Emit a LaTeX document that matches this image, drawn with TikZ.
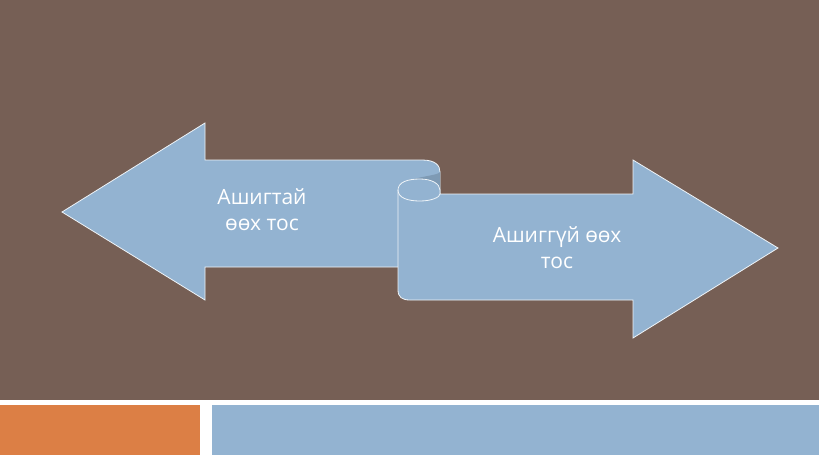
\documentclass[tikz,border=0pt]{standalone}
\usepackage{fontspec}
\setmainfont{Open Sans}
\begin{document}
\begin{tikzpicture}[x=1pt,y=-1pt]
\definecolor{bg}{HTML}{765F55}
\definecolor{ab}{HTML}{93B3D1}
\definecolor{abd}{HTML}{7E9AB4}
\definecolor{og}{HTML}{DC7F45}
\tikzset{arr/.style={fill=ab,draw=white!85!ab,line width=0.8pt},
  lbl/.style={text=white,font=\fontsize{21}{26}\selectfont,align=center}}
\fill[bg] (0,0) rectangle (819,400);
\fill[white] (0,400) rectangle (819,460);
\fill[og] (0,405) rectangle (200,455);
\fill[ab] (212,405) rectangle (819,455);
\path[use as bounding box] (0,0) rectangle (819,460);
% left arrow
\path[arr] (62,212) -- (205,123) -- (205,160) -- (422,160)
  .. controls (436,160) and (440,166) .. (440,172) -- (440,267) -- (205,267) -- (205,300) -- cycle;
% dark inside of curl
\fill[abd] (398,188) .. controls (398,178) and (440,176) .. (440,172) -- (440,194) -- (398,194) -- cycle;
% right arrow
\path[arr] (398,190) .. controls (398,182) and (408,179) .. (420,179)
  .. controls (432,179) and (440,184) .. (440,190) -- (440,194) -- (633,194) -- (633,160) -- (778,248)
  -- (633,338) -- (633,300) -- (410,300) .. controls (402,300) and (398,297) .. (398,290) -- cycle;
\draw[white!85!ab,line width=0.8pt] (398,190) .. controls (398,198) and (408,201) .. (420,201)
  .. controls (432,201) and (440,197) .. (440,194);
\node[lbl] (l) at (262,210) {Ашигтай\\өөх тос};
\node[lbl] (r) at (557,248) {Ашиггүй өөх\\тос};
\end{tikzpicture}
\end{document}
